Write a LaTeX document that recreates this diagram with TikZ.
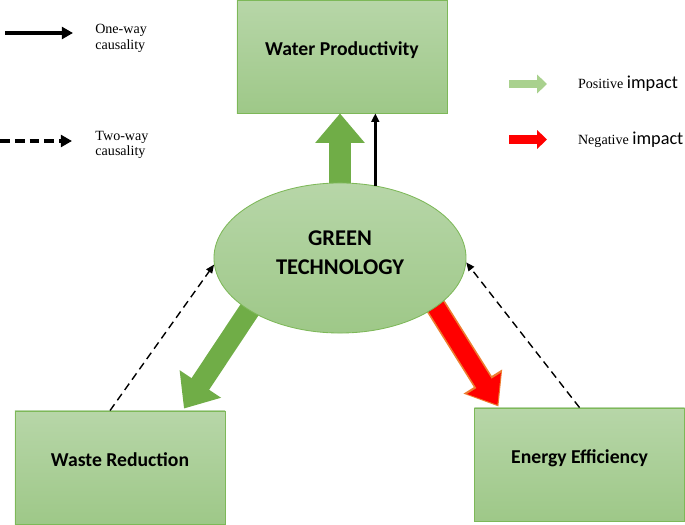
\documentclass[tikz,border=0pt]{standalone}
\usepackage{fontspec}
\setmainfont{Liberation Serif}
\newfontfamily\calibri{Carlito}
\usetikzlibrary{shapes.geometric, positioning, arrows.meta, calc, backgrounds}
\definecolor{boxtop}{RGB}{183,214,168}
\definecolor{boxbot}{RGB}{158,200,136}
\definecolor{boxline}{RGB}{125,184,88}
\definecolor{posgreen}{RGB}{112,173,71}
\definecolor{lightgreen}{RGB}{169,209,142}
\definecolor{negorange}{RGB}{237,125,49}

\begin{document}
\begin{tikzpicture}[x=0.025cm, y=-0.025cm,
    factor/.style={rectangle, minimum width=5.25cm, minimum height=2.825cm, text centered, text height=10pt, text depth=12pt, top color=boxtop, bottom color=boxbot, draw=boxline, line width=0.6pt, font=\calibri\bfseries\fontsize{14}{16}\selectfont},
    core/.style={ellipse, minimum width=6.3cm, minimum height=3.75cm, align=center, inner sep=0pt, text depth=7.8pt, top color=boxtop, bottom color=boxbot, draw=boxline, line width=0.6pt, font=\calibri\bfseries\fontsize{16}{20.6}\selectfont},
    legendtext/.style={align=left, inner sep=0pt, font=\fontsize{10}{11}\selectfont},
    impacttext/.style={inner sep=0pt, font=\fontsize{10}{12}\selectfont},
    oneway/.style={line width=2pt, -{Triangle[length=6pt, width=5.5pt]}},
    twoway/.style={line width=1pt, dash pattern=on 5.5pt off 3.5pt, -{Triangle[length=6pt, width=5pt]}},
    keyoneway/.style={line width=2.8pt, -{Triangle[length=8pt, width=8.5pt]}},
    keytwoway/.style={line width=2.8pt, dash pattern=on 7pt off 3.5pt, -{Triangle[length=8pt, width=8.5pt]}},
    posarrow/.style={posgreen, line width=15pt, -{Triangle[length=21pt, width=34pt]}},
    negouter/.style={negorange, line width=15pt, -{Triangle[length=21pt, width=31pt]}},
    neginner/.style={red, line width=12.6pt, shorten >=1.4pt, -{Triangle[length=18pt, width=27pt]}},
    keypos/.style={lightgreen, line width=6pt, -{Triangle[length=7pt, width=13pt]}},
    keyneg/.style={red, line width=6.5pt, -{Triangle[length=7pt, width=13pt]}},
]
\useasboundingbox (0,0) rectangle (685,525);

% Nodes
\node[factor] (water) at (342,56.5) {Water Productivity};
\node[core] (green) at (340,258) {GREEN\\TECHNOLOGY};
\node[factor] (waste) at (120,467.5) {Waste Reduction};
\node[factor] (energy) at (579.5,464.5) {Energy Efficiency};

% Legend
\coordinate (oneTail) at (5,33);
\coordinate (oneHead) at (73,33);
\node[legendtext, right=0.55cm of oneHead, yshift=-0.13cm] (oneText) {One-way\\causality};
\coordinate (twoTail) at (0,141);
\coordinate (twoHead) at (72,141);
\node[legendtext, right=0.58cm of twoHead, yshift=-0.1cm] (twoText) {Two-way\\causality};
\coordinate (posTail) at (509,84);
\coordinate (posHead) at (547,84);
\node[impacttext, right=0.77cm of posHead] (posText) {Positive {\calibri\fontsize{13}{14}\selectfont impact}};
\coordinate (negTail) at (509,139.5);
\coordinate (negHead) at (547,139.5);
\node[impacttext, right=0.77cm of negHead] (negText) {Negative {\calibri\fontsize{13}{14}\selectfont impact}};

\draw[keyoneway] (oneTail) -- (oneHead);
\draw[keytwoway] (twoTail) -- (twoHead);
\draw[keypos] (posTail) -- (posHead);
\draw[keyneg] (negTail) -- (negHead);

% Connections
\begin{scope}[on background layer]
\draw[posarrow, shorten <=-4pt] (green.north) -- (green.north |- water.south);
\draw[posarrow, shorten <=-12pt] (green.210) -- ($(waste.north)+(64,-2)$);
\draw[negouter, shorten <=-12pt] (green.-27) -- ($(energy.north)+(-81,-1)$);
\draw[neginner, shorten <=-12pt] (green.-27) -- ($(energy.north)+(-81,-1)$);
\end{scope}
\draw[oneway] (green.64) -- (green.64 |- water.south);
\draw[twoway] ($(waste.north)+(-10,0)$) -- (green.183);
\draw[twoway] (energy.north) -- (green.-2);

\end{tikzpicture}
\end{document}
